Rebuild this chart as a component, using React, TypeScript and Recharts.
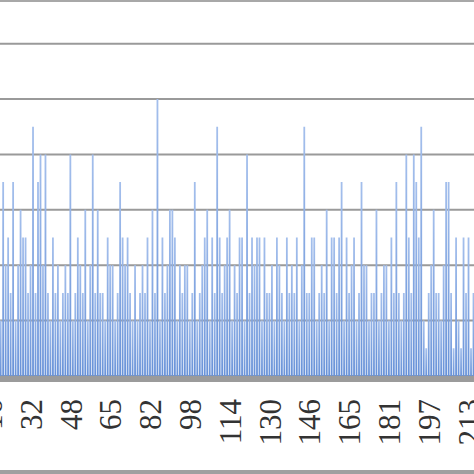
import { BarChart, Bar, XAxis, YAxis, CartesianGrid } from "recharts";

// category labels (day numbers, a few days missing)
const DAYS = [
  0, 1, 2, 3, 4, 5, 6, 7, 8, 9, 10, 11, 12, 13, 14, 15, 16, 17, 18, 19,
  20, 21, 22, 23, 24, 25, 26, 27, 28, 29, 30, 31, 32, 33, 34, 35, 36, 37, 38, 39,
  40, 41, 42, 43, 44, 45, 46, 47, 48, 49, 50, 51, 52, 53, 54, 55, 57, 58, 59, 60,
  61, 62, 63, 64, 65, 66, 67, 68, 69, 70, 71, 72, 74, 75, 76, 77, 78, 79, 80, 81,
  82, 83, 84, 85, 86, 87, 88, 89, 90, 91, 92, 93, 94, 95, 96, 97, 98, 99, 100, 101,
  102, 103, 104, 105, 106, 107, 108, 109, 110, 111, 112, 113, 114, 115, 116, 117, 118, 119, 120, 121,
  122, 123, 124, 125, 126, 127, 128, 129, 130, 131, 132, 133, 134, 135, 136, 137, 138, 139, 140, 141,
  142, 143, 144, 145, 146, 147, 148, 149, 150, 152, 153, 154, 155, 156, 158, 159, 161, 162, 163, 164,
  165, 166, 167, 168, 169, 170, 171, 172, 173, 174, 175, 176, 177, 178, 179, 180, 181, 182, 183, 184,
  185, 186, 187, 188, 189, 190, 191, 192, 193, 194, 195, 196, 197, 198, 199, 200, 201, 202, 203, 204,
  205, 206, 207, 208, 209, 210, 211, 212, 213, 214, 215, 216, 217, 218, 219, 220, 221, 222, 223,
];

const COUNTS = [
  3, 2, 4, 3, 1, 5, 3, 4, 2, 3, 6, 4, 3, 2, 5, 2, 3, 4, 2, 3,
  2, 7, 4, 5, 3, 7, 2, 4, 6, 5, 5, 3, 4, 9, 3, 7, 8, 4, 8, 3,
  2, 5, 3, 4, 2, 3, 4, 3, 8, 2, 3, 5, 4, 3, 6, 2, 4, 8, 3, 6,
  3, 3, 2, 5, 4, 4, 2, 3, 7, 5, 4, 5, 3, 2, 4, 2, 3, 4, 3, 5,
  2, 6, 3, 10, 2, 5, 3, 4, 6, 6, 5, 2, 4, 3, 4, 4, 2, 3, 7, 2,
  3, 4, 5, 6, 2, 5, 3, 9, 5, 3, 4, 5, 6, 2, 4, 3, 5, 5, 2, 8,
  3, 5, 4, 5, 5, 2, 5, 3, 3, 4, 2, 5, 4, 3, 2, 5, 3, 4, 3, 5,
  2, 4, 9, 3, 3, 5, 5, 2, 3, 4, 3, 6, 2, 5, 5, 3, 5, 7, 2, 5,
  3, 4, 5, 2, 3, 7, 4, 4, 2, 3, 3, 6, 2, 3, 4, 4, 2, 5, 3, 7,
  3, 2, 3, 8, 5, 3, 8, 7, 5, 9, 2, 1, 3, 4, 6, 3, 3, 2, 4, 7,
  7, 3, 1, 5, 2, 1, 5, 3, 5, 1, 3, 2, 5, 4, 3, 6, 2, 4, 2,
];

const Y_TICKS = [0, 2, 4, 6, 8, 10, 12];

const data = DAYS.map((day, i) => ({ day, count: COUNTS[i] }));

function DayTick({ x, y, payload }: any) {
  return (
    <text
      transform={`translate(${x},${y + 12}) rotate(-90)`}
      textAnchor="end"
      dy="0.35em"
      fill="#333"
      fontSize={31}
      fontFamily="Liberation Serif"
    >
      {payload.value}
    </text>
  );
}

export default function App() {
  return (
    <div
      style={{
        position: "absolute",
        left: 0,
        top: 0,
        width: 474,
        height: 474,
        overflow: "hidden",
        background: "#fff",
      }}
    >
      <div style={{ position: "absolute", left: -49.6, top: 0 }}>
        <BarChart
          width={545}
          height={474}
          data={data}
          margin={{ top: 1, right: 0, bottom: 0, left: 0 }}
          barSize={1.8}
        >
          <defs>
            <linearGradient id="barFill" x1="0" y1="0" x2="0" y2="1">
              <stop offset="0%" stopColor="#a4bfec" />
              <stop offset="100%" stopColor="#6892d8" />
            </linearGradient>
          </defs>
          <CartesianGrid vertical={false} stroke="#9a9a9a" strokeWidth={2} />
          <XAxis
            dataKey="day"
            interval={15}
            tickLine={false}
            axisLine={{ stroke: "#9b9b9b", strokeWidth: 6 }}
            height={95}
            tick={<DayTick />}
          />
          <YAxis hide domain={[-0.11, 13.54]} ticks={Y_TICKS} allowDataOverflow />
          <Bar dataKey="count" fill="url(#barFill)" isAnimationActive={false} />
        </BarChart>
      </div>
      <div style={{ position: "absolute", left: 0, top: 0, width: 474, height: 2, background: "#a8a8a8" }} />
      <div style={{ position: "absolute", left: 0, top: 470, width: 474, height: 4, background: "#a0a0a0" }} />
    </div>
  );
}
